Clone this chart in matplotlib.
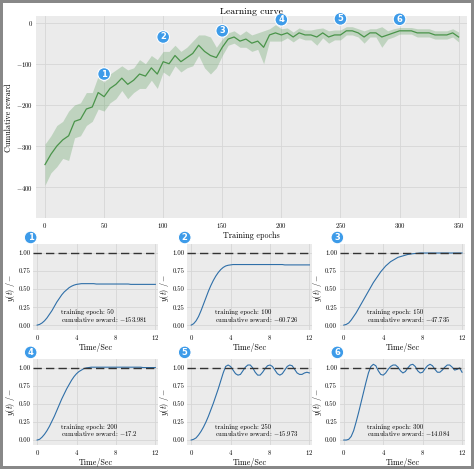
import numpy as np
import matplotlib.pyplot as plt

plt.rcParams['font.family'] = 'serif'
plt.rcParams['font.serif'] = ['cmr10', 'DejaVu Serif']
plt.rcParams['mathtext.fontset'] = 'cm'
plt.rcParams['axes.formatter.use_mathtext'] = True

# learning curve (read every 5 epochs)
epochs = np.arange(0, 351, 5)
reward_mean = [-345, -320, -300, -285, -275, -240, -235, -210, -205, -170, -180, -160, -150, -135, -150,
               -140, -125, -130, -110, -125, -95, -100, -80, -95, -85, -75, -55, -70, -80, -85,
               -60, -40, -35, -45, -40, -50, -45, -60, -30, -25, -30, -25, -35, -25, -30,
               -30, -35, -25, -35, -30, -30, -20, -20, -25, -35, -25, -25, -35, -30, -25,
               -20, -20, -20, -25, -25, -25, -30, -30, -30, -25, -35]
reward_spread = [50, 45, 50, 45, 60, 40, 40, 40, 35, 40, 35, 35, 35, 30, 35,
                 30, 35, 30, 30, 35, 25, 30, 25, 25, 25, 30, 25, 40, 45, 25,
                 20, 15, 15, 15, 20, 20, 20, 40, 15, 20, 15, 12, 12, 12, 12,
                 12, 20, 12, 15, 12, 12, 10, 10, 10, 15, 10, 10, 25, 10, 10,
                 8, 8, 8, 10, 10, 10, 10, 10, 10, 10, 12]

marker_epochs = [50, 100, 150, 200, 250, 300]
marker_rewards = [-135, -45, -30, -3, -1, -2]

# step responses at selected epochs
resp_epochs = [50, 100, 150, 200, 250, 300]
resp_rewards = ['-153.981', '-60.726', '-47.735', '-17.2', '-15.973', '-14.084']
y1 = [0, .01, .03, .06, .10, .15, .20, .26, .32, .37, .42, .46, .49, .52, .54, .555, .565, .57] + [.575] * 6 + [.57] * 14 + [.565] * 11
y2 = [0, .02, .06, .12, .20, .29, .38, .47, .55, .62, .68, .73, .77, .80, .82, .83, .835, .84] + [.84] * 20 + [.835] * 11
y3 = [0, .01, .03, .07, .12, .17, .23, .29, .35, .41, .47, .53, .59, .64, .69, .74, .78, .82, .85, .88, .90,
      .92, .94, .95, .96, .97, .98, .985, .99, .993, .996] + [1.0] * 18
y4 = [0, .01, .04, .08, .13, .19, .26, .33, .41, .49, .57, .64, .71, .77, .83, .88, .92, .95, .97, .99, 1.0,
      1.005, 1.01] + [1.01] * 20 + [1.005] * 6
y5 = [0, .01, .03, .07, .12, .18, .25, .33, .42, .51, .61, .71, .82, .93, 1.02, 1.04, 1.02, .97, .92, .90,
      .91, .96, 1.01, 1.04, 1.04, 1.0, .94, .90, .90, .94, .99, 1.03, 1.04, 1.02, .97, .92, .90, .92, .97,
      1.02, 1.04, 1.03, .98, .93, .91, .91, .93, .94, .93]
y6 = [0, 0, .01, .05, .13, .25, .38, .52, .66, .80, .93, 1.02, 1.05, 1.03, .96, .91, .90, .93, .98, 1.02,
      1.04, 1.04, 1.01, .96, .93, .95, 1.0, 1.04, 1.05, 1.02, .96, .93, .94, .99, 1.03, 1.05, 1.03, .98,
      .94, .94, .97, 1.01, 1.04, 1.04, 1.01, .97, .98, 1.0, .94]
responses = [y1, y2, y3, y4, y5, y6]

bg = '#ebebeb'
badge = '#3d9be9'


def style(ax):
    ax.set_facecolor(bg)
    ax.grid(True, color='#d6d6d6', linewidth=0.6)
    ax.set_axisbelow(True)
    for s in ax.spines.values():
        s.set_visible(False)
    ax.tick_params(length=0, labelsize=4.8, pad=2)


fig = plt.figure(figsize=(4.74, 4.69), dpi=100)
fig.patch.set_edgecolor('#888888')
fig.patch.set_linewidth(3)

ax = fig.add_axes([0.075, 0.535, 0.91, 0.43])
style(ax)
mean = np.array(reward_mean)
spr = np.array(reward_spread)
ax.fill_between(epochs, mean - spr, mean + spr, color='#5a9e5a', alpha=0.3, linewidth=0)
ax.plot(epochs, mean, color='#4a944a', linewidth=0.9)
ax.set_xlim(-8, 357)
ax.set_ylim(-475, 15)
ax.set_xticks(range(0, 351, 50))
ax.set_yticks([0, -100, -200, -300, -400])
ax.set_title('Learning curve', fontsize=7, pad=2)
ax.set_xlabel('Training epochs', fontsize=5.8, labelpad=1)
ax.set_ylabel('Cumulative reward', fontsize=5.8, labelpad=2)
for i, (e, r) in enumerate(zip(marker_epochs, marker_rewards)):
    ax.text(e, r + 10, str(i + 1), color='white', fontsize=6, fontweight='bold', family='DejaVu Sans',
            ha='center', va='center',
            bbox=dict(boxstyle='circle,pad=0.22', fc=badge, ec='white', lw=0.8))

lefts = [0.07, 0.395, 0.717]
bottoms = [0.296, 0.051]
for k, y in enumerate(responses):
    r, c = divmod(k, 3)
    a = fig.add_axes([lefts[c], bottoms[r], 0.264, 0.183])
    style(a)
    a.plot(np.linspace(0, 12, len(y)), y, color='#2f6fa8', linewidth=0.8)
    a.axhline(1.0, color='#333333', linestyle=(0, (6, 3)), linewidth=1)
    a.set_xlim(-0.4, 12.3)
    a.set_ylim(-0.07, 1.12)
    a.set_xticks([0, 4, 8, 12])
    a.set_yticks([0, 0.25, 0.5, 0.75, 1.0])
    a.set_yticklabels(['0.00', '0.25', '0.50', '0.75', '1.00'])
    a.set_xlabel('Time/Sec', fontsize=5.8, labelpad=1)
    a.set_ylabel(r'$y(t)\ /-$', fontsize=5.8, labelpad=1)
    a.text(0.22, 0.1, 'training epoch: %d\ncumulative reward: $-$%s' % (resp_epochs[k], resp_rewards[k][1:]),
           transform=a.transAxes, fontsize=4.8, linespacing=0.9)
    a.text(-0.02, 1.08, str(k + 1), transform=a.transAxes, color='white', fontsize=6, fontweight='bold',
           family='DejaVu Sans', ha='center', va='center',
           bbox=dict(boxstyle='circle,pad=0.22', fc=badge, ec='white', lw=0.8))

fig.savefig('out.png', dpi=100, edgecolor=fig.get_edgecolor())
